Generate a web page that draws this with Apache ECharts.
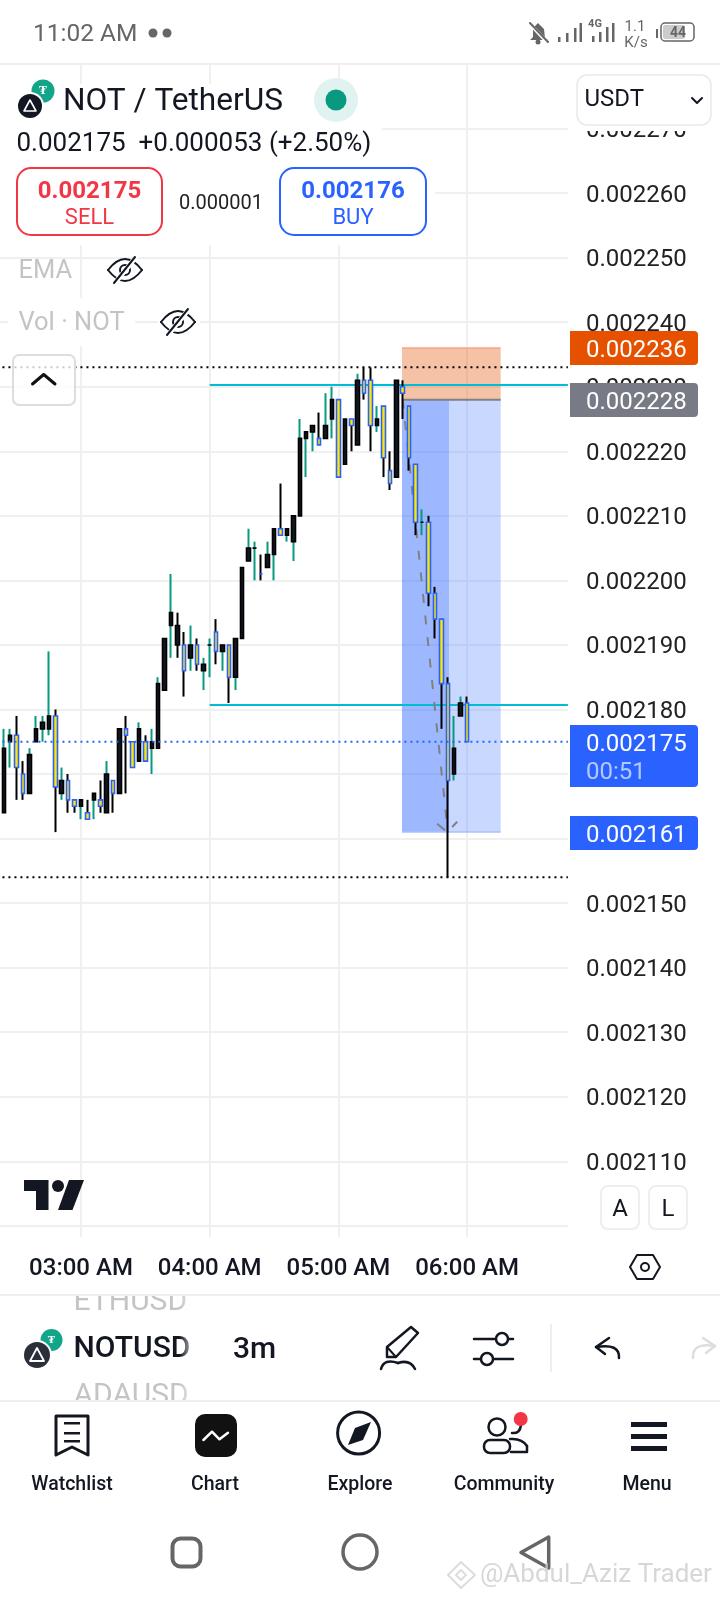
<!DOCTYPE html>
<html><head><meta charset="utf-8">
<style>html,body{margin:0;padding:0;background:#fff}#c{width:720px;height:1600px}</style>
<script src="https://cdn.jsdelivr.net/npm/echarts@6/dist/echarts.min.js"></script>
</head><body><div id="c"></div>
<script>
// candle index 0 = 03:00 AM, 3 minutes per candle; prices in millionths of USDT
const candleIndex = [-12,-11,-10,-9,-8,-7,-6,-5,-4,-3,-2,-1,0,1,2,3,4,5,6,7,8,9,10,11,12,13,14,15,16,17,18,19,20,21,22,23,24,25,26,27,28,29,30,31,32,33,34,35,36,37,38,39,40,41,42,43,44,45,46,47,48,49,50,51,52,53,54,55,56,57,58,59,60];
const opens  = [2164,2175,2176,2170,2167,2175,2177,2177,2179,2167,2169,2166,2165,2164,2166,2166,2164,2169,2167,2177,2175,2172,2175,2174,2174,2183,2193,2190,2190,2188,2190,2186,2190,2192,2189,2190,2185,2191,2203,2205,2201,2202,2204,2208,2207,2206,2210,2222,2223,2222,2222,2225,2228,2218,2225,2221,2231,2231,2224,2227,2217,2216,2230,2227,2218,2209,2209,2198,2194,2184,2170,2179,2181];
const closes = [2174,2176,2171,2167,2173,2177,2178,2179,2168,2169,2166,2165,2166,2163,2167,2165,2170,2167,2177,2176,2171,2177,2172,2175,2184,2191,2195,2193,2186,2190,2187,2187,2190,2189,2190,2185,2191,2202,2205,2205,2201,2204,2208,2207,2208,2210,2222,2223,2224,2221,2224,2228,2216,2225,2224,2231,2229,2224,2225,2219,2215,2231,2229,2219,2209,2209,2198,2194,2184,2169,2174,2181,2175];
const lows   = [2164,2171,2166,2166,2167,2175,2175,2176,2161,2166,2164,2164,2163,2163,2163,2164,2164,2164,2167,2167,2171,2172,2172,2170,2174,2183,2188,2188,2182,2186,2186,2183,2185,2187,2186,2181,2183,2191,2203,2200,2200,2202,2200,2207,2206,2203,2210,2216,2220,2221,2222,2222,2216,2218,2220,2221,2228,2220,2223,2216,2214,2216,2225,2217,2207,2207,2196,2191,2177,2154,2169,2179,2175];
const highs  = [2177,2177,2179,2172,2174,2179,2179,2189,2180,2171,2170,2166,2166,2166,2167,2169,2172,2169,2177,2179,2175,2178,2176,2177,2185,2191,2201,2195,2192,2193,2191,2188,2191,2194,2190,2190,2191,2202,2208,2206,2204,2206,2208,2215,2208,2210,2225,2223,2224,2226,2229,2230,2228,2225,2225,2232,2233,2233,2227,2227,2220,2231,2231,2227,2218,2211,2210,2199,2194,2185,2179,2182,2182];
// candle indices whose wick is green; every other wick is black
const greenWicks = [-12,-11,-8,-7,-6,-5,-3,0,2,4,9,11,12,14,17,19,20,22,24,26,27,29,30,32,33,34,35,36,38,39,43,46,53,58,59];
const hourTicks = {180:'03:00 AM',240:'04:00 AM',300:'05:00 AM',360:'06:00 AM'};
const highLine = 2233, lowLine = 2154, lastPrice = 2175;
const cyanUpper = 2230.25, cyanLower = 2180.7, cyanStart = 240;
const stopPrice = 2236, entryPrice = 2228, targetPrice = 2161;
const toolLeft = 329.65, toolMid = 351.56, toolRight = 375.66;
const pathDash = [[330,2228],[351,2161]];
const arrowLeftArm = [[346,2162.3],[349.7,2161.3]];
const arrowRightArm = [[355.4,2162.6],[353,2161.8]];
const priceTags = [['0.002236',331,34,'#e65100'],['0.002228',383,34,'#787b86'],['0.002161',816,34,'#2962ff']];
const navLabels = [['Watchlist',72],['Chart',215],['Explore',360],['Community',504],['Menu',647]];

const INK='#131722', GREEN='#089981', BLUE='#2962ff', RED='#f23645';
const greenWick = new Set(greenWicks);
const wickColour = i => (greenWick.has(candleIndex[i])?GREEN:'#000');
const x3 = i => 180+3*candleIndex[i];
const wickData = candleIndex.map((_,i)=>{const c=wickColour(i);return {value:[x3(i),opens[i],closes[i],lows[i],highs[i]],
  itemStyle:{color:c,color0:c,borderColor:c,borderColor0:c,borderColorDoji:c}};});
const isDown = i => closes[i]<opens[i] || i===candleIndex.indexOf(28);
const bodyData = candleIndex.map((_,i)=>{const d=isDown(i),f=d?'#ffe800':INK,b=d?BLUE:'#000';
  return {value:[x3(i),opens[i],closes[i],Math.min(opens[i],closes[i]),Math.max(opens[i],closes[i])],
  itemStyle:{color:f,color0:f,borderColor:b,borderColor0:b,borderColorDoji:b}};});
const lineS=(name,data,color,width,z,type)=>({name,type:'line',data,showSymbol:false,symbol:'none',silent:true,z,
  lineStyle:{color,width,type:type||'solid'},xAxisIndex:0,yAxisIndex:0,animation:false});

// page furniture
const g=[];
const R=(x,y,w,h,fill,z,r,stroke,lw)=>g.push({type:'rect',z:z||20,silent:true,shape:{x,y,width:w,height:h,r:r||0},style:{fill:fill||'none',stroke:stroke||null,lineWidth:lw||0}});
const C=(cx,cy,r,fill,stroke,lw,z)=>g.push({type:'circle',z:z||30,silent:true,shape:{cx,cy,r},style:{fill:fill||'none',stroke:stroke||null,lineWidth:lw||0}});
const T=(text,x,y,font,fill,align,z)=>g.push({type:'text',z:z||31,silent:true,style:{text,x,y:y+4,font,fill,textAlign:align||'left',textVerticalAlign:'middle',align:align||'left',verticalAlign:'middle'}});
const L=(pts,stroke,lw,z)=>g.push({type:'polyline',z:z||30,silent:true,shape:{points:pts},style:{fill:'none',stroke,lineWidth:lw,lineCap:'round',lineJoin:'round'}});
const P=(pts,fill,stroke,lw,z)=>g.push({type:'polygon',z:z||30,silent:true,shape:{points:pts},style:{fill:fill||'none',stroke:stroke||null,lineWidth:lw||0,lineJoin:'round'}});
const B=(x1,y1,cx,cy,x2,y2,stroke,lw,z)=>g.push({type:'bezierCurve',z:z||30,silent:true,shape:{x1,y1,x2,y2,cpx1:cx,cpy1:cy},style:{fill:'none',stroke,lineWidth:lw,lineCap:'round'}});
const F='Roboto';

// covers over the chart
R(0,0,720,64,'#fff',10);
R(0,1237,570,58,'#fff',10);
R(0,84,382,81,'#fff',10);
R(0,165,435,80,'#fff',10);
R(8,298,127,48,'#fff',10);
R(158,298,42,48,'#fff',10);
R(0,1295,720,306,'#fff',10);
// separators
R(0,63,720,2,'#eeeeee',11);
R(0,1294,720,2,'#eeeeee',34);
R(0,1400,720,2,'#eeeeee',34);

// status bar
T('11:02 AM',33,31,'400 24.5px '+F,'#666');
C(153,33,4.5,'#666');C(167,33,4.5,'#666');
P([[538,23],[544,29],[545,38],[548,40],[530,40],[533,37],[533,28]],'#666');
C(538,42,2.5,'#666');L([[529,23],[548,43]],'#fff',3.5,31);L([[530,23],[548,42]],'#666',2,32);
[[558,5],[566,9],[574,14],[579.5,19]].forEach(b=>R(b[0],42-b[1],2.5,b[1],'#666',30));
[[592,6],[599,10],[606,15],[612,19]].forEach(b=>R(b[0],42-b[1],2.5,b[1],'#666',30));
T('4G',595,20,'700 11px '+F,'#666','center');
T('1.1',635,23,'400 15px '+F,'#666','center');
T('K/s',636,39,'400 15px '+F,'#666','center');
R(656,29,2,9,'#666',30);
R(661,23,33,18,'#fff',30,4,'#666',1.5);
R(663,25,22,14,'#ccc',30,2);
T('44',678,29,'700 14px '+F,'#666','center',32);

// symbol header
C(43,91,11.5,'#12a58a');T('₮',43,87,'700 12px '+F,'#fff','center');
C(30,106,14,'#fff',null,0,31);C(30,106,12,INK,null,0,32);
L([[30,100],[24,111],[36,111],[30,100]],'#fff',1.6,33);
T('NOT / TetherUS',63,98,'400 31.6px '+F,INK);
C(336,100,22,'#e0f3f0');C(336,100,10.5,GREEN,null,0,31);
T('0.002175  +0.000053 (+2.50%)',16.5,140,'400 26px '+F,INK);
R(17,168,145,67,'#fff',20,14,RED,2);
T('0.002175',89.5,188,'700 24px '+F,RED,'center');
T('SELL',89.5,214,'400 22px '+F,RED,'center');
T('0.000001',221,200,'400 20px '+F,'#222','center');
R(280,168,146,67,'#fff',20,14,BLUE,2);
T('0.002176',353,188,'700 24px '+F,BLUE,'center');
T('BUY',353,214,'400 22px '+F,BLUE,'center');
T('EMA',18.4,268,'400 25.5px '+F,'#c4c4c4');
T('Vol · NOT',18.4,320,'400 25.5px '+F,'#c4c4c4');
[[125,270],[178,322]].forEach(e=>{const x=e[0],y=e[1];
  B(x-17,y,x,y-22,x+17,y,INK,2);B(x-17,y,x,y+22,x+17,y,INK,2);
  C(x,y,5,null,INK,2);L([[x-10,y+13],[x+11,y-13]],'#fff',5,31);L([[x-11,y+13],[x+10,y-13]],INK,2,32);});
// collapse button
R(13,355,62,50,'rgba(255,255,255,0.78)',12,6,'#dddddd',2);
L([[32.5,384],[43.7,374.5],[55,384]],'#111',3,13);
// currency picker
R(570,66,150,65,'#fff',54);
R(577,75,134,50,'#fff',55,10,'#eeeeee',2);
T('USDT',584.5,96,'400 24px '+F,INK,'left',56);
L([[692,98],[697,103],[702,98]],INK,2,56);
// price tags
priceTags.forEach(t=>{R(570,t[1],128,t[2],t[3],60,[0,4,4,0]);T(t[0],586,t[1]+t[2]/2-1,'400 24px '+F,'#fff','left',61);});
R(570,725,128,62,BLUE,60,[0,4,4,0]);
T('0.002175',586,741,'400 24px '+F,'#fff','left',61);
T('00:51',586,769,'400 24px '+F,'rgba(255,255,255,0.65)','left',61);
// TradingView mark
P([[24,1180],[48.5,1180],[48.5,1210],[36,1210],[36,1191],[24,1191]],INK,null,0,20);
C(58,1186,6,INK,null,0,20);
P([[84,1180],[69,1180],[58,1210],[72.5,1210]],INK,null,0,20);
R(601,1186,38,43,'#fff',55,7,'#eeeeee',2);T('A',620,1206,'400 24px '+F,INK,'center',56);
R(649,1186,38,43,'#fff',55,7,'#eeeeee',2);T('L',668,1206,'400 24px '+F,INK,'center',56);
P([[630,1267],[637,1255],[653,1255],[660,1267],[653,1279],[637,1279]],null,INK,2,30);
C(645,1267,4,null,INK,2);
// toolbar
T('ETHUSD',73.5,1298,'400 30px '+F,'#c4c4c4');
T('ADAUSD',73.5,1392,'400 30px '+F,'#c4c4c4');
R(60,1270,145,25,'#fff',33);R(60,1402,145,11,'#fff',33);
T('NOTUSD',73.5,1345,'500 30px '+F,INK);
g.push({type:'rect',z:33,silent:true,shape:{x:180,y:1290,width:17,height:110},style:{fill:new echarts.graphic.LinearGradient(0,0,1,0,[{offset:0,color:'rgba(255,255,255,0)'},{offset:1,color:'#fff'}])}});
C(51.5,1340,11,'#12a58a');T('₮',51.5,1336,'700 11px '+F,'#fff','center');
C(37,1355,15,'#fff',null,0,31);C(37,1355,13,'#2b2f3a',null,0,32);
L([[37,1348],[30,1361],[44,1361],[37,1348]],'#fff',1.8,33);
T('3m',233,1346,'500 30px '+F,INK);
P([[387,1357],[387,1347],[411,1327],[418,1333],[396,1357]],'#fff',INK,2.5);L([[387,1347],[396,1357]],INK,2);
B(381,1369,384,1358,398,1363,INK,2.5);B(398,1363,410,1359,415,1369,INK,2.5);
L([[474,1339],[496,1339]],INK,2.5);L([[508,1339],[513,1339]],INK,2.5);C(502,1339,6,'#fff',INK,2.5);
L([[474,1359],[481,1359]],INK,2.5);L([[493,1359],[513,1359]],INK,2.5);C(487,1359,6,'#fff',INK,2.5);
R(550,1324,2,48,'#eeeeee',30);
L([[609,1338],[596,1347],[605,1354]],INK,2.5);B(596,1347,620,1343,619,1358,INK,2.5);
L([[703,1338],[715,1346],[706,1353]],'#dddddd',2.5);B(715,1346,692,1342,693,1358,'#dddddd',2.5);
// navigation bar
P([[56,1416],[88,1416],[88,1455],[72,1447],[56,1455]],null,INK,3);
R(64,1422,16,2.5,INK,31);R(64,1432,16,2.5,INK,31);R(64,1440,16,2.5,INK,31);
R(195,1414,42,43,'#111',30,10);
L([[203.4,1440],[212,1431.7],[219.5,1439.3],[228,1432.7]],'#fff',2.5,31);
C(358.6,1433,21,null,INK,3);
P([[371,1422],[363,1440],[348,1445],[355,1428]],INK);
C(497,1427,8.5,null,INK,2.5);
R(484,1440,26,13,'#fff',31,6,INK,2.5);
B(512,1433,520,1434,521,1425,INK,2.5);
B(510,1439,522,1438,527,1446,INK,2.5);L([[527,1446],[527,1452],[511,1452]],INK,2.5);
C(520.7,1419,7,RED,null,0,32);
R(631,1422,36,5,INK,30);R(631,1434,36,5,INK,30);R(631,1446,36,5,INK,30);
navLabels.forEach(n=>T(n[0],n[1],1481,'500 19.5px '+F,INK,'center'));
// system buttons
R(172.5,1538.5,28,28,null,30,8,'#666',4);
C(360,1552,17,null,'#666',3.5);
P([[548.7,1537],[521,1552.5],[548.7,1568]],null,'#666',3.5);
// watermark
P([[461,1562],[475,1575],[461,1588],[448,1575]],null,'#dddddd',2);
P([[461,1570],[466,1575],[461,1580],[456,1575]],null,'#dddddd',2);
T('@Abdul_Aziz Trader',480,1571,'400 26px '+F,'rgba(205,205,205,0.8)');

const chart=echarts.init(document.getElementById('c'),null,{renderer:'canvas',width:720,height:1600});
chart.setOption({
  animation:false,backgroundColor:'#fff',
  grid:{left:-47.7,top:64,width:615.6,height:1226.4,containLabel:false,outerBoundsMode:'none'},
  xAxis:[
    {type:'value',min:120,max:407,interval:60,position:'bottom',z:0,
      axisLine:{show:false},axisTick:{show:false},axisLabel:{show:false},
      splitLine:{show:true,showMinLine:false,showMaxLine:false,lineStyle:{color:'#f0f0f0',width:2}}},
    {type:'value',min:120,max:407,interval:60,position:'bottom',offset:-36,z:50,
      axisLine:{show:false},axisTick:{show:false},splitLine:{show:false},
      axisLabel:{show:true,margin:3,hideOverlap:false,showMinLabel:false,showMaxLabel:false,color:INK,fontFamily:F,fontWeight:500,fontSize:24,
        formatter:v=>hourTicks[v]||''}}
  ],
  yAxis:[
    {type:'value',min:2090,max:2280,interval:10,position:'right',scale:true,z:0,
      axisLine:{show:false},axisTick:{show:false},axisLabel:{show:false},
      splitLine:{show:true,showMinLine:false,lineStyle:{color:'#f0f0f0',width:2}}},
    {type:'value',min:2090,max:2280,interval:10,position:'right',scale:true,z:50,
      axisLine:{show:false},axisTick:{show:false},splitLine:{show:false},
      axisLabel:{show:true,margin:18,color:'#222',fontFamily:F,fontSize:24,align:'left',verticalAlign:'top',lineHeight:5,
        formatter:v=>(v<2105||v>2275)?'':(v/1e6).toFixed(6)}}
  ],
  series:[
    {name:'wicks',type:'candlestick',data:wickData,barWidth:0.5,silent:true,z:3,xAxisIndex:0,yAxisIndex:0,
      itemStyle:{borderWidth:2},
      markArea:{silent:true,z:1,data:[
        [{xAxis:toolLeft,yAxis:stopPrice,itemStyle:{color:'rgba(230,81,0,0.35)'}},{xAxis:toolRight,yAxis:entryPrice}],
        [{xAxis:toolLeft,yAxis:entryPrice,itemStyle:{color:'rgba(41,98,255,0.45)'}},{xAxis:toolMid,yAxis:targetPrice}],
        [{xAxis:toolMid,yAxis:entryPrice,itemStyle:{color:'rgba(41,98,255,0.25)'}},{xAxis:toolRight,yAxis:targetPrice}]
      ]}},
    {name:'bodies',type:'candlestick',data:bodyData,barWidth:4,silent:true,z:4,xAxisIndex:0,yAxisIndex:0,itemStyle:{borderWidth:1.6}},
    lineS('stop edge',[[toolLeft,stopPrice],[toolRight,stopPrice]],'#f4a58a',1.5,2),
    lineS('entry edge',[[toolLeft,entryPrice],[toolRight,entryPrice]],'#808080',2,2),
    lineS('target edge',[[toolLeft,targetPrice],[toolRight,targetPrice]],'#a9c0fd',1.5,2),
    lineS('cyan upper',[[cyanStart,cyanUpper],[407,cyanUpper]],'#00bcd4',2,2),
    lineS('cyan lower',[[cyanStart,cyanLower],[407,cyanLower]],'#00bcd4',2,2),
    lineS('projection',pathDash,'#808080',2,2,[9,12.7]),
    lineS('arrow left',arrowLeftArm,'#808080',2,2),
    lineS('arrow right',arrowRightArm,'#808080',2,2),
    lineS('session high',[[121,highLine],[407,highLine]],'#000',2,5,[2,4]),
    lineS('session low',[[121,lowLine],[407,lowLine]],'#000',2,5,[2,4]),
    lineS('last price',[[121,lastPrice],[407,lastPrice]],BLUE,2,5,[2,4])
  ],
  graphic:{elements:g}
});
</script></body></html>
